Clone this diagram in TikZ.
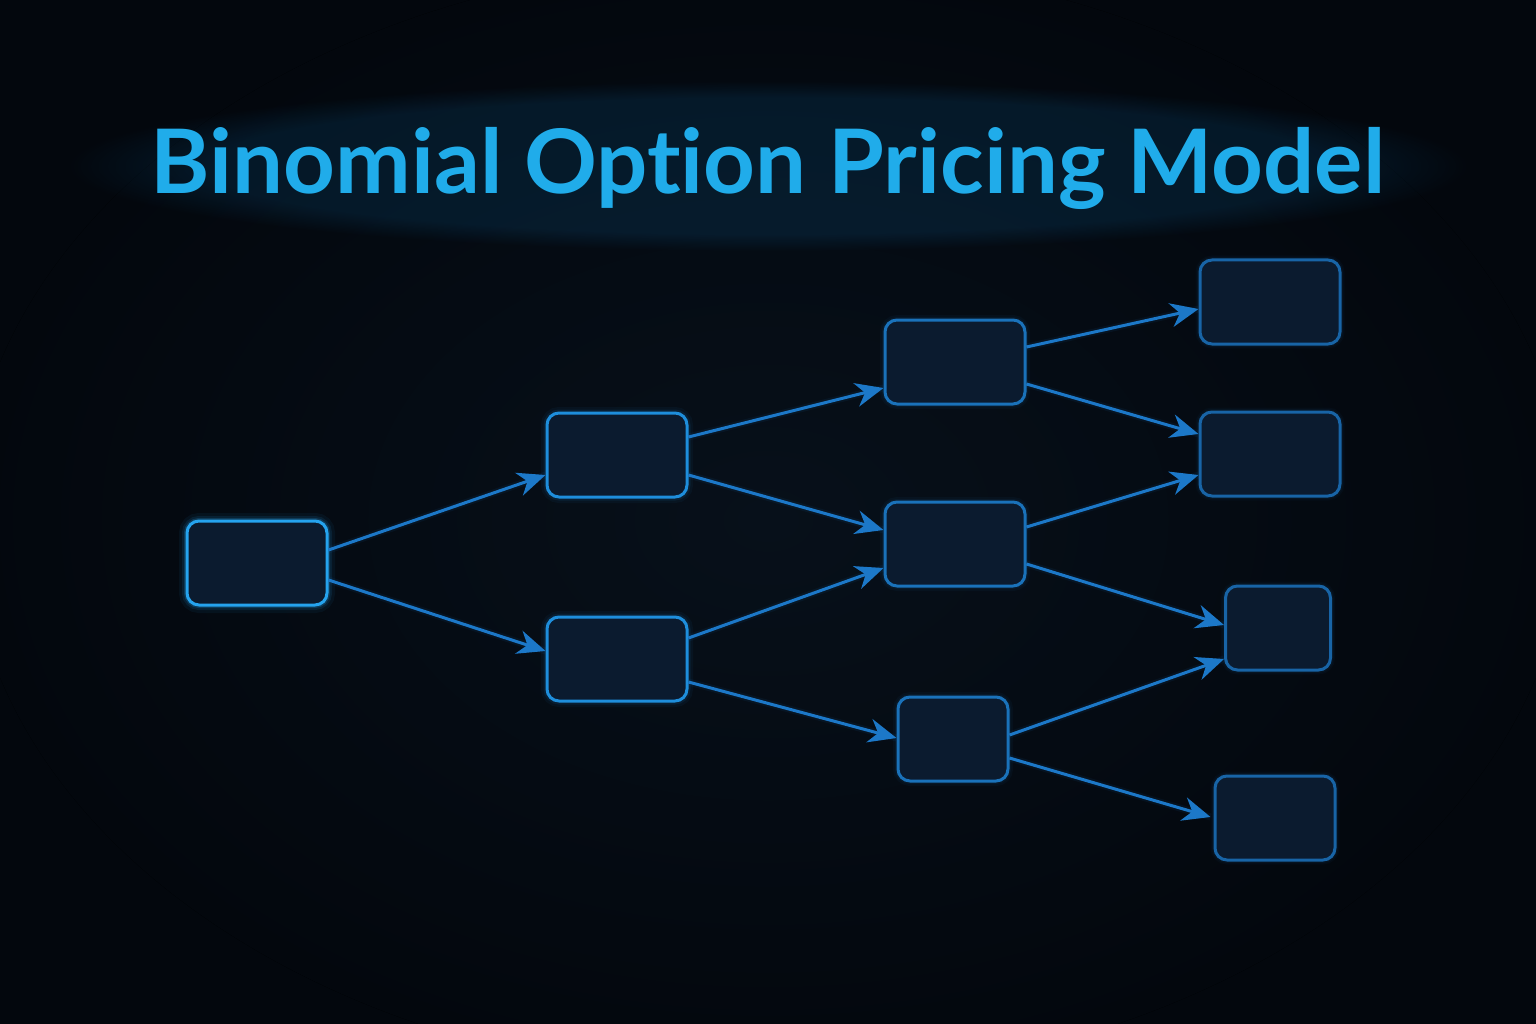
\documentclass[tikz,border=0pt]{standalone}
\usepackage{fontspec}
\setmainfont[Ligatures=NoCommon]{Lato}
\usetikzlibrary{arrows.meta,fadings}
\definecolor{bgc}{HTML}{03070D}
\definecolor{bgm}{HTML}{07101A}
\definecolor{boxfill}{HTML}{0B1B2F}
\definecolor{bA}{HTML}{25A3EE}
\definecolor{bB}{HTML}{1E8EDC}
\definecolor{bC}{HTML}{1A72BA}
\definecolor{bD}{HTML}{1864A6}
\definecolor{arc}{HTML}{1C78C8}
\definecolor{titlec}{HTML}{20ACEA}
\definecolor{glowc}{HTML}{0E6FB0}
\tikzset{
  tbox/.style={rectangle, rounded corners=12pt, inner sep=0pt, line width=3pt,
    fill=boxfill, minimum width=#1, minimum height=84pt},
  tbox/.default=140pt,
  glowA/.style={preaction={draw=bA, line width=16pt, opacity=0.06},
                preaction={draw=bA, line width=10pt, opacity=0.10},
                preaction={draw=bA, line width=6pt, opacity=0.20}, draw=bA},
  glowB/.style={preaction={draw=bB, line width=12pt, opacity=0.05},
                preaction={draw=bB, line width=7pt, opacity=0.10}, draw=bB},
  glowC/.style={preaction={draw=bC, line width=10pt, opacity=0.05},
                preaction={draw=bC, line width=6pt, opacity=0.08}, draw=bC},
  glowD/.style={preaction={draw=bD, line width=9pt, opacity=0.05},
                preaction={draw=bD, line width=6pt, opacity=0.07}, draw=bD},
  arr/.style={draw=arc, line width=3pt,
    -{Stealth[length=28pt, width=24pt, inset=9pt]},
    preaction={draw=arc, line width=7pt, opacity=0.08, -}},
  ttl/.style={font=\bfseries\fontsize{89}{100}\selectfont, inner sep=0pt, xscale=1.015}
}
\begin{document}
\begin{tikzpicture}[x=1pt, y=-1pt]
\useasboundingbox (0,0) rectangle (1536,1024);
\fill[bgc] (0,0) rectangle (1536,1024);
\fill[inner color=bgm, outer color=bgc] (768,520) ellipse (800 and 560);

% title glow
\fill[glowc, opacity=0.16, path fading=circle with fuzzy edge 20 percent] (768,166) ellipse (700 and 85);
\node[ttl, text=titlec] (title) at (768,168) {Binomial Option Pricing Model};

% nodes
\node[tbox, glowA] (A)  at (257,563) {};
\node[tbox, glowB] (B1) at (617,455) {};
\node[tbox, glowB] (B2) at (617,659) {};
\node[tbox, glowC] (C1) at (955,362) {};
\node[tbox, glowC] (C2) at (955,544) {};
\node[tbox=110pt, glowC] (C3) at (953,739) {};
\node[tbox, glowD] (D1) at (1270,302) {};
\node[tbox, glowD] (D2) at (1270,454) {};
\node[tbox=105pt, glowD] (D3) at (1278,628) {};
\node[tbox=120pt, glowD] (D4) at (1275,818) {};

% edges (yshift positive = up)
\draw[arr] ([yshift=13pt]A.east)  -- ([yshift=-20pt]B1.west);
\draw[arr] ([yshift=-17pt]A.east) -- ([yshift=8pt]B2.west);
\draw[arr] ([yshift=18pt]B1.east) -- ([yshift=-26pt]C1.west);
\draw[arr] ([yshift=-20pt]B1.east) -- ([yshift=14pt]C2.west);
\draw[arr] ([yshift=21pt]B2.east) -- ([yshift=-24pt]C2.west);
\draw[arr] ([yshift=-23pt]B2.east) -- ([yshift=1pt]C3.west);
\draw[arr] ([yshift=15pt]C1.east) -- ([yshift=-7pt]D1.west);
\draw[arr] ([yshift=-22pt]C1.east) -- ([yshift=20pt]D2.west);
\draw[arr] ([yshift=17pt]C2.east) -- ([yshift=-21pt]D2.west);
\draw[arr] ([yshift=-20pt]C2.east) -- ([yshift=3pt]D3.west);
\draw[arr] ([yshift=4pt]C3.east) -- ([yshift=-31pt]D3.west);
\draw[arr] ([yshift=-19pt]C3.east) -- ([xshift=-3pt,yshift=1pt]D4.west);
\end{tikzpicture}
\end{document}
